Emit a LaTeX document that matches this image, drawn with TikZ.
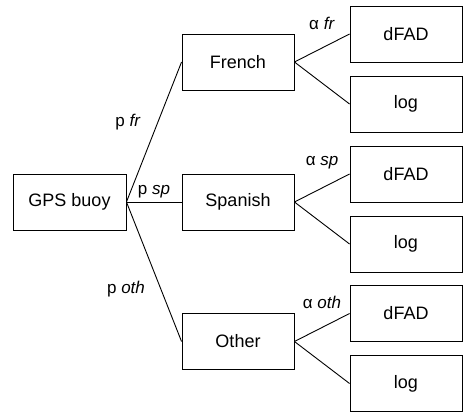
\documentclass[tikz,border=0pt]{standalone}
\usepackage{fontspec}
\setmainfont{Liberation Sans}

\begin{document}
\begin{tikzpicture}[x=1pt, y=-1pt, line width=.9pt,
  box/.style={draw, minimum width=112pt, minimum height=56pt,
    inner sep=0pt, font=\fontsize{18}{20}\selectfont},
  lbl/.style={inner sep=0pt, font=\fontsize{17}{19}\selectfont}]
  \useasboundingbox (0,0) rectangle (474,420);
  \node [box, minimum width=113pt] (gps) at (69.5,202) {GPS buoy};
  % branch name / text / y / shift of the p label
  \foreach \br/\txt/\y/\px/\py in
    {fr/French/62/-26/10, sp/Spanish/202/0/10, oth/Other/341.5/-28/-17.5}
  {
    \node [box] (\br) at (238,\y) {\txt};
    \draw (gps.east) -- node [lbl, xshift=\px pt, yshift=\py pt] (p\br)
      {p \textit{\br}} (\br.west);
    \node [box] (d\br) at (406,\y-28) {dFAD};
    \node [box] (l\br) at (406,\y+42) {log};
    \draw (\br.east) -- node [lbl, yshift=25pt] (a\br)
      {α \textit{\br}} (d\br.west);
    \draw (\br.east) -- (l\br.west);
  }
\end{tikzpicture}
\end{document}
